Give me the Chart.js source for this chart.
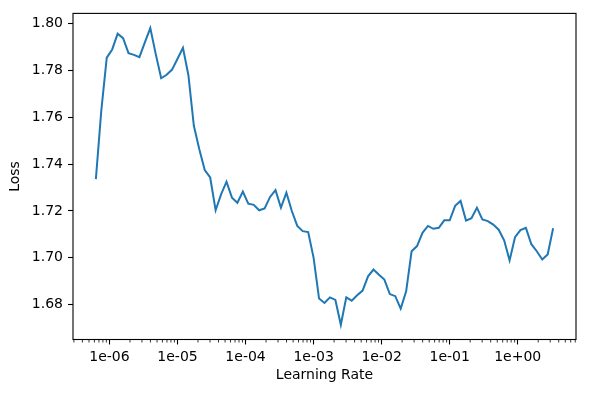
<!DOCTYPE html>
<html>
<head>
<meta charset="utf-8">
<script src="https://cdn.jsdelivr.net/npm/chart.js@4"></script>
<style>
  html, body { margin: 0; padding: 0; background: #fff; }
  canvas { display: block; }
</style>
</head>
<body>
<canvas id="c" width="591" height="409"></canvas>
<script>
// Learning rates (x)
const learningRates = [
  6.310e-7, 7.586e-7, 9.120e-7, 1.096e-6, 1.318e-6, 1.585e-6, 1.905e-6, 2.291e-6, 2.754e-6, 3.311e-6,
  3.981e-6, 4.786e-6, 5.754e-6, 6.918e-6, 8.318e-6, 1.000e-5, 1.202e-5, 1.445e-5, 1.738e-5, 2.089e-5,
  2.512e-5, 3.020e-5, 3.631e-5, 4.365e-5, 5.248e-5, 6.310e-5, 7.586e-5, 9.120e-5, 1.096e-4, 1.318e-4,
  1.585e-4, 1.905e-4, 2.291e-4, 2.754e-4, 3.311e-4, 3.981e-4, 4.786e-4, 5.754e-4, 6.918e-4, 8.318e-4,
  1.000e-3, 1.202e-3, 1.445e-3, 1.738e-3, 2.089e-3, 2.512e-3, 3.020e-3, 3.631e-3, 4.365e-3, 5.248e-3,
  6.310e-3, 7.586e-3, 9.120e-3, 1.096e-2, 1.318e-2, 1.585e-2, 1.905e-2, 2.291e-2, 2.754e-2, 3.311e-2,
  3.981e-2, 4.786e-2, 5.754e-2, 6.918e-2, 8.318e-2, 1.000e-1, 1.202e-1, 1.445e-1, 1.738e-1, 2.089e-1,
  2.512e-1, 3.020e-1, 3.631e-1, 4.365e-1, 5.248e-1, 6.310e-1, 7.586e-1, 9.120e-1, 1.096, 1.318,
  1.585, 1.905, 2.291, 2.754, 3.311
];
// Loss values (y)
const losses = [
  1.7336, 1.7630, 1.7855, 1.7890, 1.7957, 1.7938, 1.7874, 1.7867, 1.7857, 1.7920,
  1.7981, 1.7870, 1.7767, 1.7782, 1.7804, 1.7850, 1.7897, 1.7780, 1.7564, 1.7464,
  1.7375, 1.7343, 1.7203, 1.7271, 1.7325, 1.7257, 1.7235, 1.7283, 1.7231, 1.7226,
  1.7203, 1.7211, 1.7260, 1.7289, 1.7214, 1.7278, 1.7200, 1.7136, 1.7114, 1.7110,
  1.7000, 1.6826, 1.6807, 1.6831, 1.6820, 1.6714, 1.6831, 1.6817, 1.6840, 1.6860,
  1.6921, 1.6950, 1.6928, 1.6907, 1.6845, 1.6836, 1.6783, 1.6857, 1.7028, 1.7050,
  1.7107, 1.7136, 1.7124, 1.7128, 1.7160, 1.7160, 1.7222, 1.7243, 1.7159, 1.7169,
  1.7214, 1.7164, 1.7157, 1.7142, 1.7120, 1.7075, 1.6989, 1.7088, 1.7118, 1.7128,
  1.7058, 1.7028, 1.6993, 1.7014, 1.7126
];
const xTickValues = [1e-6, 1e-5, 1e-4, 1e-3, 1e-2, 1e-1, 1];
const xTickLabels = ['1e-06', '1e-05', '1e-04', '1e-03', '1e-02', '1e-01', '1e+00'];
const yTickValues = [1.68, 1.70, 1.72, 1.74, 1.76, 1.78, 1.80];
const yTickLabels = ['1.68', '1.70', '1.72', '1.74', '1.76', '1.78', '1.80'];

const points = learningRates.map((lr, i) => ({ x: lr, y: losses[i] }));
const font = { family: 'DejaVu Sans', size: 14 };
const ink = '#000';

const frameAndMinor = {
  id: 'frameAndMinor',
  afterDraw(chart) {
    const { ctx, chartArea: a, scales } = chart;
    const xs = scales.x;
    ctx.save();
    ctx.strokeStyle = ink;
    ctx.lineWidth = 0.8;
    for (let e = -7; e <= 1; e++) {
      for (let m = 2; m <= 9; m++) {
        const v = m * Math.pow(10, e);
        if (v < xs.min || v > xs.max) continue;
        const px = xs.getPixelForValue(v);
        ctx.beginPath();
        ctx.moveTo(px, a.bottom);
        ctx.lineTo(px, a.bottom + 3);
        ctx.stroke();
      }
    }
    ctx.lineWidth = 1.1;
    ctx.strokeRect(a.left, a.top, a.right - a.left, a.bottom - a.top);
    ctx.restore();
  }
};

new Chart(document.getElementById('c'), {
  type: 'line',
  data: {
    datasets: [{
      data: points,
      borderColor: '#1f77b4',
      borderWidth: 2,
      pointRadius: 0,
      tension: 0,
      fill: false
    }]
  },
  options: {
    responsive: false,
    animation: false,
    layout: { padding: { left: 0, top: 12, right: 15, bottom: 0 } },
    plugins: { legend: { display: false }, tooltip: { enabled: false } },
    scales: {
      x: {
        type: 'logarithmic',
        position: 'bottom',
        min: 2.91e-7,
        max: 7.18,
        border: { display: false },
        grid: { display: true, drawOnChartArea: false, tickLength: 5, tickColor: ink, tickWidth: 1.1 },
        afterBuildTicks: s => { s.ticks = xTickValues.map(v => ({ value: v })); },
        afterFit: s => { s.height = 69.5; },
        ticks: {
          font, color: ink, padding: 4, autoSkip: false, maxRotation: 0, minRotation: 0,
          callback: (v, i) => xTickLabels[i]
        },
        title: { display: true, text: 'Learning Rate', font, color: ink, padding: { top: 0, bottom: 25 } }
      },
      y: {
        type: 'linear',
        position: 'left',
        min: 1.6651,
        max: 1.8044,
        border: { display: false },
        grid: { display: true, drawOnChartArea: false, tickLength: 5, tickColor: ink, tickWidth: 1.1 },
        afterBuildTicks: s => { s.ticks = yTickValues.map(v => ({ value: v })); },
        afterFit: s => { s.width = 73; },
        ticks: {
          font, color: ink, padding: 5, autoSkip: false,
          callback: (v, i) => yTickLabels[i]
        },
        title: { display: true, text: 'Loss', font, color: ink, padding: { top: 7, bottom: 0 } }
      }
    }
  },
  plugins: [frameAndMinor]
});
</script>
</body>
</html>
